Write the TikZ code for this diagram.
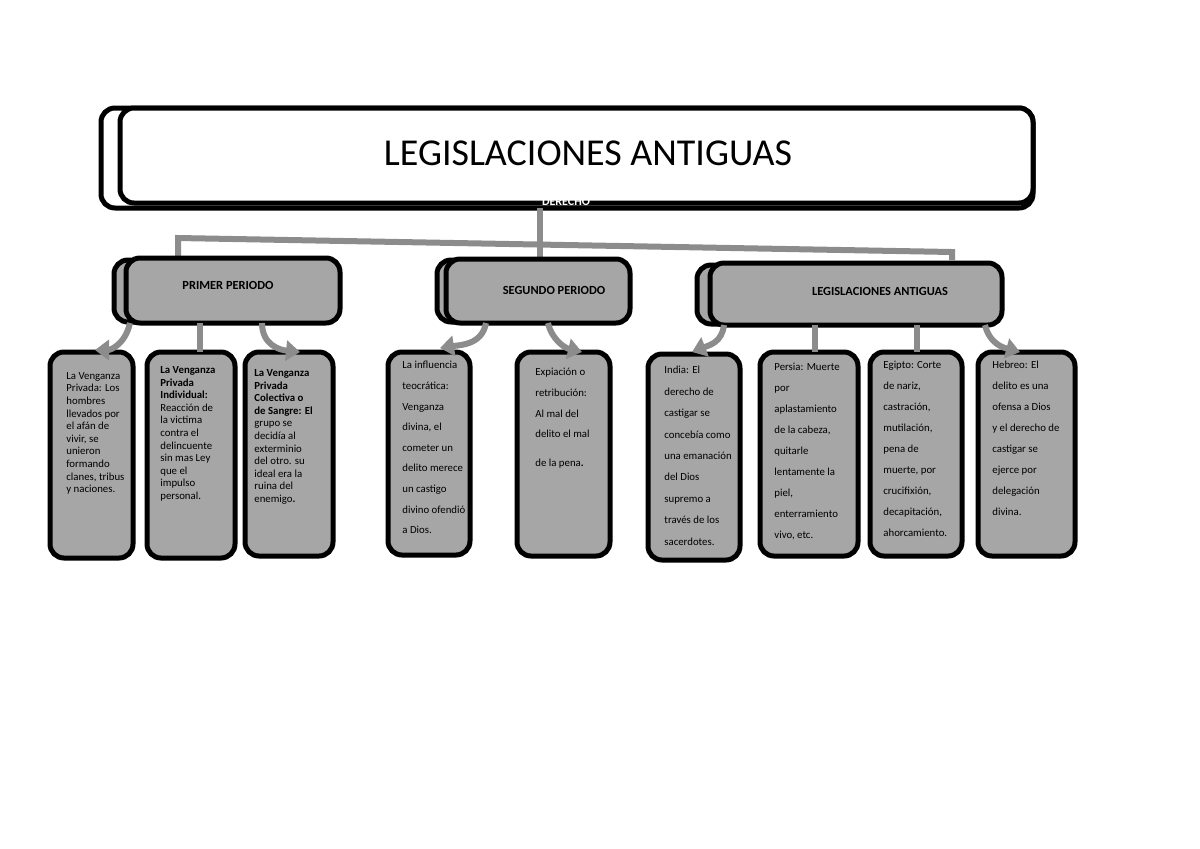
\documentclass[tikz,border=0pt]{standalone}
\usepackage{fontspec}
\setmainfont{Carlito}
\usetikzlibrary{arrows.meta}
\definecolor{boxgray}{HTML}{A6A6A6}
\definecolor{lgray}{HTML}{8C8C8C}
\tikzset{
 x=0.5pt,y=-0.5pt,
 rbox/.style={draw=black,line width=2.5pt,rounded corners=7pt},
 conn/.style={draw=lgray,line width=3pt},
 carr/.style={conn,-{Triangle[length=7pt,width=10pt]}},
 leaf/.style={anchor=north west,align=left,inner sep=0pt,font=\fontsize{5.4}{#1}\selectfont},
}
\begin{document}
\begin{tikzpicture}
\useasboundingbox (0,0) rectangle (1200,848);
% main
\draw[rbox,fill=white] (101,108) rectangle (1033,208);
\draw[rbox,fill=white] (120,108) rectangle (1033,203);
\node (main) at (588,153) {\fontsize{19}{22}\selectfont LEGISLACIONES ANTIGUAS};
\node[text=white,font=\fontsize{6}{7}\selectfont\bfseries] (der) at (566,202) {DERECHO};
% connectors top
\coordinate (t0) at (540,208);
\coordinate (hl) at (178,238);
\coordinate (hr) at (952,252);
\draw[conn] (t0) -- (540,258);
\draw[conn] (178,258) -- (hl) -- (hr) -- (952,260);
% period boxes
\draw[rbox,fill=boxgray] (114,260) rectangle (330,322);
\draw[rbox,fill=boxgray] (126,258) rectangle (340,323);
\node[font=\fontsize{6.2}{7}\selectfont\bfseries] (p1) at (228,285) {PRIMER PERIODO};
\draw[rbox,fill=boxgray] (437,260) rectangle (620,322);
\draw[rbox,fill=boxgray] (446,259) rectangle (630,323);
\node[font=\fontsize{6.2}{7}\selectfont\bfseries] (p2) at (554,290) {SEGUNDO PERIODO};
\draw[rbox,fill=boxgray] (697,265) rectangle (990,324);
\draw[rbox,fill=boxgray] (710,263) rectangle (1002,325);
\node[font=\fontsize{6.2}{7}\selectfont\bfseries] (p3) at (880,291) {LEGISLACIONES ANTIGUAS};
% leaf boxes
\foreach \n/\a/\b/\c/\d in {1/50/352/133/558,2/147/352/235/558,3/245/352/333/556,4/388/352/470/555,5/517/352/610/556,6/648/354/740/560,7/760/352/858/556,8/870/352/962/556,9/978/352/1075/556}{
 \draw[rbox,fill=boxgray] (\a,\b) rectangle (\c,\d);
 \coordinate (l\n) at ({(\a+\c)/2},\b);
}
% arrows
\draw[carr] (130,323) .. controls (125,345) and (110,350) .. (95,350);
\draw[conn] (200,323) -- (200,352);
\draw[carr] (262,323) .. controls (262,345) and (280,350) .. (300,352);
\draw[carr] (486,323) .. controls (482,345) and (460,345) .. (440,348);
\draw[carr] (548,323) .. controls (552,340) and (565,348) .. (582,352);
\draw[carr] (724,325) .. controls (722,342) and (710,345) .. (692,352);
\draw[conn] (815,325) -- (815,352);
\draw[conn] (917,325) -- (917,352);
\draw[carr] (985,325) .. controls (990,345) and (1005,348) .. (1020,352);
% leaf texts
\node[leaf=6.3] (x1) at (66,372) {La Venganza\\Privada: Los\\hombres\\llevados por\\el afán de\\vivir, se\\unieron\\formando\\clanes, tribus\\y naciones.};
\node[leaf=6.3] (x2) at (160,366) {\bfseries La Venganza\\\bfseries Privada\\\bfseries Individual:\\Reacción de\\la victima\\contra el\\delincuente\\sin mas Ley\\que el\\impulso\\personal.};
\node[leaf=6.3] (x3) at (254,369) {\bfseries La Venganza\\\bfseries Privada\\\bfseries Colectiva o\\\bfseries de Sangre: El\\grupo se\\decidía al\\exterminio\\del otro. su\\ideal era la\\ruina del\\enemigo\textbf{.}};
\node[leaf=10.3] (x4) at (402,361) {La influencia\\teocrática:\\Venganza\\divina, el\\cometer un\\delito merece\\un castigo\\divino ofendió\\a Dios.};
\node[leaf=10.3] (x5) at (535,368) {Expiación o\\retribución:\\Al mal del\\delito el mal\\[4pt]de la pena\textbf{.}};
\node[leaf=10.7] (x6) at (664,366) {India: El\\derecho de\\castigar se\\concebía como\\una emanación\\del Dios\\supremo a\\través de los\\sacerdotes.};
\node[leaf=10.5] (x7) at (774,363) {Persia: Muerte\\por\\aplastamiento\\de la cabeza,\\quitarle\\lentamente la\\piel,\\enterramiento\\vivo, etc.};
\node[leaf=10.5] (x8) at (883,361) {Egipto: Corte\\de nariz,\\castración,\\mutilación,\\pena de\\muerte, por\\crucifixión,\\decapitación,\\ahorcamiento.};
\node[leaf=10.5] (x9) at (992,361) {Hebreo: El\\delito es una\\ofensa a Dios\\ y el derecho de\\castigar se\\ejerce por\\delegación\\divina.};
\end{tikzpicture}
\end{document}
